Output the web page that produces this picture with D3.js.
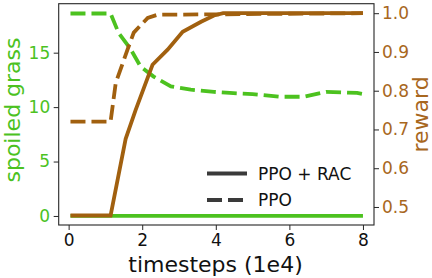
<!DOCTYPE html>
<html>
<head>
<meta charset="utf-8">
<script src="https://cdn.jsdelivr.net/npm/d3@7"></script>
<style>
  body { margin: 0; background: #fff; }
  svg { display: block; font-family: "DejaVu Sans", sans-serif; }
</style>
</head>
<body>
<svg width="432" height="278"></svg>
<script>
// values
const ragX = [0.05, 1.14, 1.55, 1.82, 2.28, 2.69, 3.1, 3.6, 3.95, 4.2, 8.0];
const ragReward = [0.478, 0.478, 0.676, 0.75, 0.867, 0.906, 0.952, 0.978, 0.994, 1.0, 1.0];

const ppoX = [0.05, 1.14, 1.28, 1.6, 1.77, 2.15, 2.42, 8.0];
const ppoReward = [0.72, 0.72, 0.82, 0.906, 0.95, 0.988, 0.996, 1.0];

const ppoGrassX = [0.05, 1.14, 1.36, 1.69, 1.96, 2.31, 2.78, 3.32, 3.95, 4.38, 5.0, 5.74, 6.4, 7.0, 7.84, 8.0];
const ppoGrass = [18.6, 18.6, 16.8, 15.3, 13.7, 12.8, 11.9, 11.6, 11.4, 11.3, 11.2, 10.95, 10.95, 11.4, 11.3, 11.2];

const ragGrassX = [0.05, 8.0];
const ragGrass = [0, 0];

const xTicks = [0, 2, 4, 6, 8];
const grassTicks = [0, 5, 10, 15];
const rewardTicks = [0.5, 0.6, 0.7, 0.8, 0.9, 1.0];
const legendLabels = ["PPO + RAC", "PPO"];

const green = "#4cc21f";
const brown = "#a1600f";
const brownText = "#a8671e";

const svg = d3.select("svg");
const mLeft = 58.7, mRight = 374, mTop = 3.7, mBottom = 225;

const x = d3.scaleLinear().domain([-0.27, 8.3]).range([mLeft, mRight]);
const yL = d3.scaleLinear().domain([-0.83, 19.5]).range([mBottom, mTop]);
const yR = d3.scaleLinear().domain([0.4535, 1.0245]).range([mBottom, mTop]);

function pts(xs, ys) { return xs.map((v, i) => [v, ys[i]]); }

const lineL = d3.line().x(d => x(d[0])).y(d => yL(d[1]));
const lineR = d3.line().x(d => x(d[0])).y(d => yR(d[1]));

const plot = svg.append("g");

plot.append("path").attr("d", lineL(pts(ppoGrassX, ppoGrass)))
    .attr("fill", "none").attr("stroke", green).attr("stroke-width", 3.8)
    .attr("stroke-dasharray", "15,6");
plot.append("path").attr("d", lineL(pts(ragGrassX, ragGrass)))
    .attr("fill", "none").attr("stroke", green).attr("stroke-width", 3.8);
plot.append("path").attr("d", lineR(pts(ppoX, ppoReward)))
    .attr("fill", "none").attr("stroke", brown).attr("stroke-width", 3.8)
    .attr("stroke-dasharray", "15,6");
plot.append("path").attr("d", lineR(pts(ragX, ragReward)))
    .attr("fill", "none").attr("stroke", brown).attr("stroke-width", 3.8);

// frame
svg.append("rect").attr("x", mLeft).attr("y", mTop)
    .attr("width", mRight - mLeft).attr("height", mBottom - mTop)
    .attr("fill", "none").attr("stroke", "#262626").attr("stroke-width", 1.1);

// axes
const gx = svg.append("g").attr("transform", `translate(0,${mBottom})`)
    .call(d3.axisBottom(x).tickValues(xTicks).tickFormat(d3.format("d")).tickSize(5).tickPadding(4));
const gl = svg.append("g").attr("transform", `translate(${mLeft},0)`)
    .call(d3.axisLeft(yL).tickValues(grassTicks).tickFormat(d3.format("d")).tickSize(5).tickPadding(3.5));
const gr = svg.append("g").attr("transform", `translate(${mRight},0)`)
    .call(d3.axisRight(yR).tickValues(rewardTicks).tickFormat(d3.format(".1f")).tickSize(5).tickPadding(3));

[gx, gl, gr].forEach(g => {
    g.select(".domain").remove();
    g.selectAll(".tick line").attr("stroke", "#262626").attr("stroke-width", 1);
    g.selectAll(".tick text").style("font-family", "DejaVu Sans").style("font-size", "17px");
});
gx.selectAll(".tick text").attr("fill", "#111");
gl.selectAll(".tick text").attr("fill", green);
gr.selectAll(".tick text").attr("fill", brownText);

// axis labels
svg.append("text").attr("x", 215.5).attr("y", 271.5).attr("text-anchor", "middle")
    .style("font-size", "22px").attr("fill", "#111").text("timesteps (1e4)");
svg.append("text").attr("transform", "translate(20,110) rotate(-90)").attr("text-anchor", "middle")
    .style("font-size", "22px").attr("fill", green).text("spoiled grass");
svg.append("text").attr("transform", "translate(428,114.5) rotate(-90)").attr("text-anchor", "middle")
    .style("font-size", "22px").attr("fill", brownText).text("reward");

// legend
const leg = svg.append("g");
legendLabels.forEach((lab, i) => {
    const ly = 173.5 + i * 26.5;
    leg.append("line").attr("x1", 207).attr("x2", 247).attr("y1", ly).attr("y2", ly)
        .attr("stroke", "#3a3a3a").attr("stroke-width", 3.8)
        .attr("stroke-dasharray", i === 1 ? "15,6" : null);
    leg.append("text").attr("x", 258).attr("y", ly + 6.2)
        .style("font-size", "17px").attr("fill", "#111").text(lab);
});
</script>
</body>
</html>
